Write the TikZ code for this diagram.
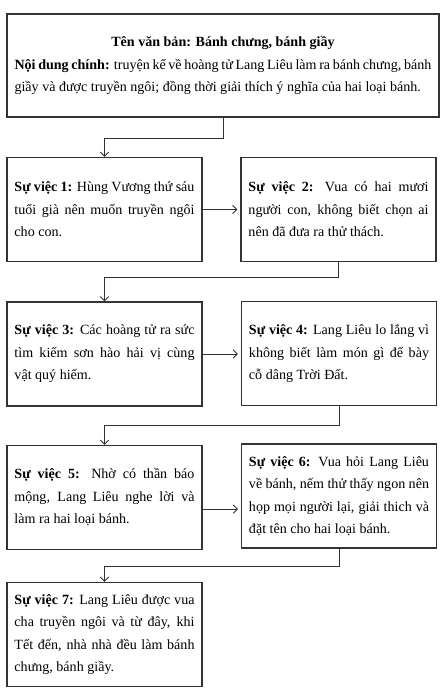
\documentclass[tikz,border=0pt]{standalone}
\usepackage{fontspec}
\setmainfont{Liberation Serif}
\usepackage{tikz}
\usetikzlibrary{arrows.meta}
\setlength{\parindent}{0pt}

\begin{document}
\begin{tikzpicture}[x=0.025cm, y=-0.025cm, >={Straight Barb[length=3pt,width=6pt]},
  every node/.style={font=\fontsize{10}{16}\selectfont},
  box/.style={draw=black!80, line width=0.9pt, inner xsep=0.19cm, align=justify, minimum height=2.6cm},
  small/.style={box, text width=4.5cm},
  link/.style={->, draw=black!80, line width=0.6pt}]

  \useasboundingbox (0,0) rectangle (443,700);

  % boxes
  \node[box, text width=10.42cm, minimum height=2.58cm] (t) at (223,65.5)
    {\makebox[\linewidth]{\textbf{Tên văn bản: Bánh chưng, bánh giầy}}\par
     \textbf{Nội dung chính:} truyện kể về hoàng tử Lang Liêu làm ra bánh chưng, bánh\linebreak giầy và được truyền ngôi; đồng thời giải thích ý nghĩa của hai loại bánh.};
  \node[small] (s1) at (104.5,209.5) {\textbf{Sự việc 1:} Hùng Vương thứ sáu\linebreak tuổi già nên muốn truyền ngôi\linebreak cho con.};
  \node[small] (s2) at (338.5,209.5) {\textbf{Sự việc 2:} Vua có hai mươi\linebreak người con, không biết chọn ai\linebreak nên đã đưa ra thử thách.};
  \node[small] (s3) at (104.5,354) {\textbf{Sự việc 3:} Các hoàng tử ra sức\linebreak tìm kiếm sơn hào hải vị cùng\linebreak vật quý hiếm.};
  \node[small] (s4) at (339,353.5) {\textbf{Sự việc 4:} Lang Liêu lo lắng vì\linebreak không biết làm món gì để bày\linebreak cỗ dâng Trời Đất.};
  \node[small] (s5) at (104.5,497.5) {\textbf{Sự việc 5:} Nhờ có thần báo\linebreak mộng, Lang Liêu nghe lời và\linebreak làm ra hai loại bánh.};
  \node[small] (s6) at (339,496) {\textbf{Sự việc 6:} Vua hỏi Lang Liêu\linebreak về bánh, nếm thử thấy ngon nên\linebreak họp mọi người lại, giải thich và\linebreak đặt tên cho hai loại bánh.};
  \node[small] (s7) at (104.5,634.5) {\textbf{Sự việc 7:} Lang Liêu được vua\linebreak cha truyền ngôi và từ đây, khi\linebreak Tết đến, nhà nhà đều làm bánh\linebreak chưng, bánh giầy.};

  % arrows
  \draw[link] (t.south) -- ++(0,21) -| (s1.north);       % title -> 1
  \draw[link, shorten >=2pt] (s1) -- (s2);               % 1 -> 2
  \draw[link] (s2.south) -- ++(0,15) -| (s3.north);      % 2 -> 3
  \draw[link, shorten >=2pt] (s3.east) -- (s3.east -| s4.west); % 3 -> 4
  \draw[link] (s4.south) -- ++(0,19) -| (s5.north);      % 4 -> 5
  \coordinate (m5) at ([yshift=-0.29cm]s5.east);
  \draw[link, shorten >=2pt] (m5) -- (m5 -| s6.west);    % 5 -> 6
  \draw[link] (s6.south) -- ++(0,18) -| (s7.north);      % 6 -> 7

\end{tikzpicture}
\end{document}
